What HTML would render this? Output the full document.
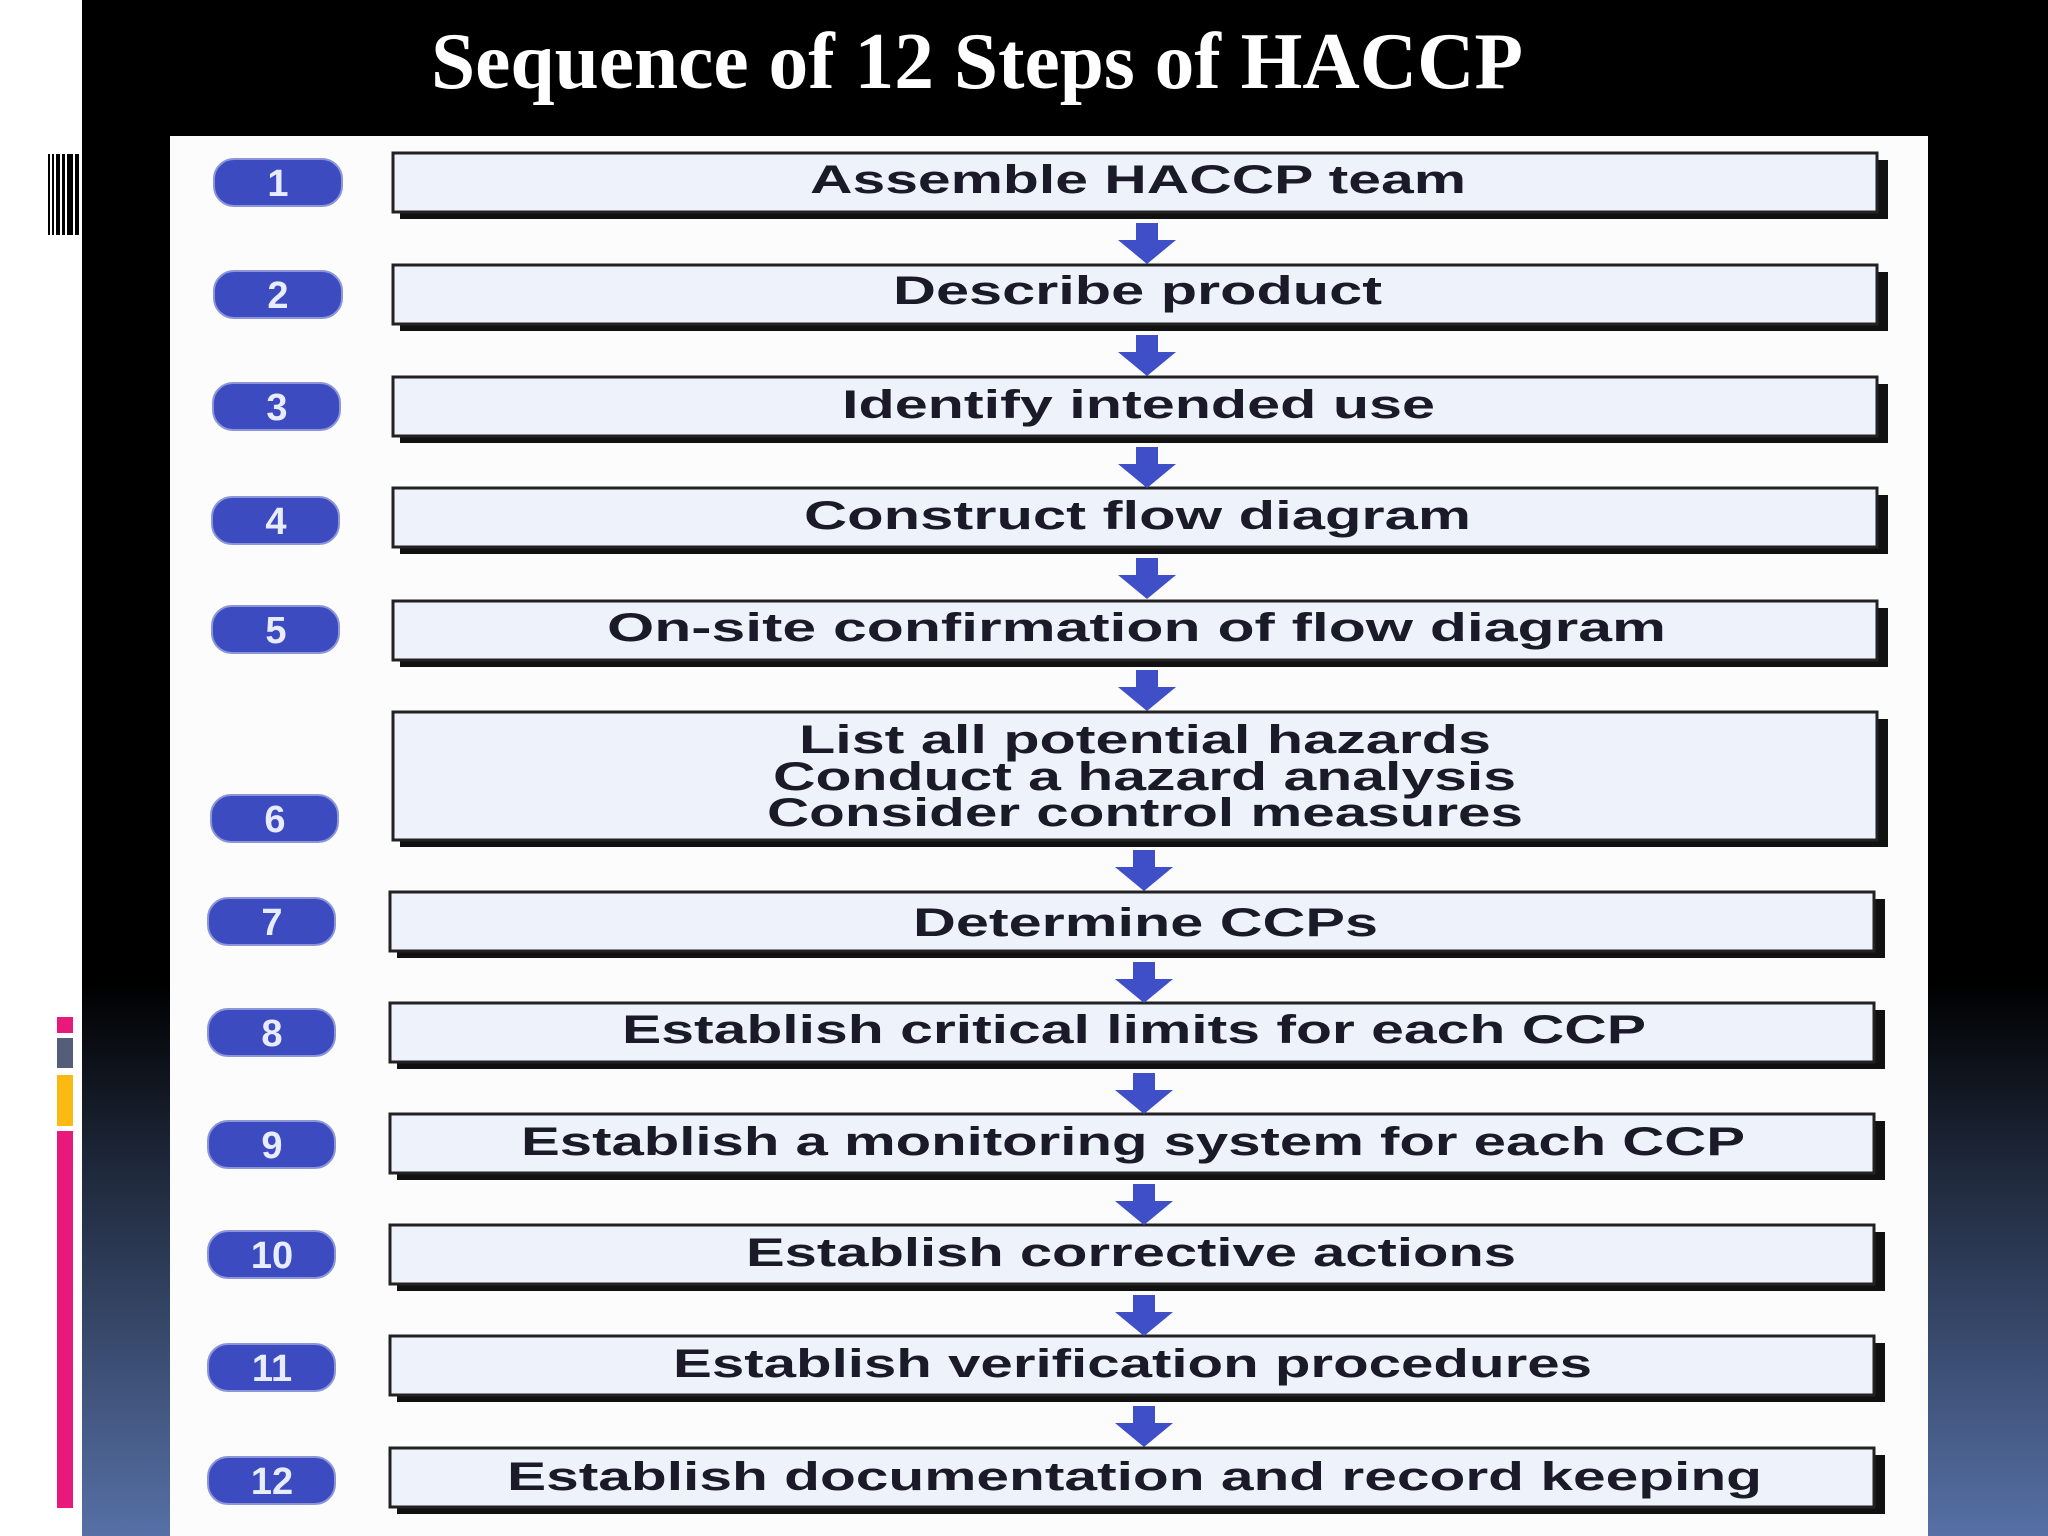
<!DOCTYPE html>
<html><head><meta charset="utf-8"><style>
html,body{margin:0;padding:0;width:2048px;height:1536px;overflow:hidden;background:#fff}
svg{display:block}
</style></head><body>
<svg width="2048" height="1536" viewBox="0 0 2048 1536" xmlns="http://www.w3.org/2000/svg">
<defs>
<linearGradient id="bg" x1="0" y1="0" x2="0" y2="1">
<stop offset="0" stop-color="#000"/>
<stop offset="0.64" stop-color="#000"/>
<stop offset="0.75" stop-color="#1c2536"/>
<stop offset="1" stop-color="#5670a6"/>
</linearGradient>
</defs>
<rect x="0" y="0" width="82" height="1536" fill="#fff"/>
<rect x="82" y="0" width="1966" height="1536" fill="url(#bg)"/>
<g fill="#000">
<rect x="48" y="154" width="2" height="81"/>
<rect x="52" y="154" width="2" height="81"/>
<rect x="56" y="154" width="4" height="81"/>
<rect x="62" y="154" width="3" height="81"/>
<rect x="67" y="154" width="6" height="81"/>
<rect x="75" y="154" width="4" height="81"/>
</g>
<rect x="57" y="1017" width="16" height="16" fill="#e8197a"/>
<rect x="57" y="1038" width="16" height="30" fill="#555e78"/>
<rect x="57" y="1075" width="16" height="51" fill="#fdb913"/>
<rect x="57" y="1131" width="16" height="377" fill="#e8197a"/>
<text x="431" y="88" font-family="Liberation Serif, serif" font-weight="bold" font-size="80" fill="#fff" textLength="1092" lengthAdjust="spacingAndGlyphs">Sequence of 12 Steps of HACCP</text>
<rect x="170" y="136" width="1758" height="1400" fill="#fbfcfb"/>
<g font-family="Liberation Sans, sans-serif" font-weight="bold">
<g>
<rect x="400" y="160" width="1488" height="59" fill="#111"/>
<rect x="393" y="153" width="1484" height="59" fill="#eef3fb" stroke="#222" stroke-width="3"/>
<text x="810" y="193" font-size="40" fill="#1a1a28" textLength="656" lengthAdjust="spacingAndGlyphs">Assemble HACCP team</text>
</g>
<g>
<rect x="400" y="272" width="1488" height="59" fill="#111"/>
<rect x="393" y="265" width="1484" height="59" fill="#eef3fb" stroke="#222" stroke-width="3"/>
<text x="893" y="304" font-size="40" fill="#1a1a28" textLength="489" lengthAdjust="spacingAndGlyphs">Describe product</text>
</g>
<g>
<rect x="400" y="384" width="1488" height="59" fill="#111"/>
<rect x="393" y="377" width="1484" height="59" fill="#eef3fb" stroke="#222" stroke-width="3"/>
<text x="842" y="418" font-size="40" fill="#1a1a28" textLength="593" lengthAdjust="spacingAndGlyphs">Identify intended use</text>
</g>
<g>
<rect x="400" y="495" width="1488" height="59" fill="#111"/>
<rect x="393" y="488" width="1484" height="59" fill="#eef3fb" stroke="#222" stroke-width="3"/>
<text x="804" y="529" font-size="40" fill="#1a1a28" textLength="667" lengthAdjust="spacingAndGlyphs">Construct flow diagram</text>
</g>
<g>
<rect x="400" y="608" width="1488" height="59" fill="#111"/>
<rect x="393" y="601" width="1484" height="59" fill="#eef3fb" stroke="#222" stroke-width="3"/>
<text x="607" y="641" font-size="40" fill="#1a1a28" textLength="1059" lengthAdjust="spacingAndGlyphs">On-site confirmation of flow diagram</text>
</g>
<g>
<rect x="400" y="719" width="1488" height="128" fill="#111"/>
<rect x="393" y="712" width="1484" height="128" fill="#eef3fb" stroke="#222" stroke-width="3"/>
<text x="799" y="753" font-size="40" fill="#1a1a28" textLength="692" lengthAdjust="spacingAndGlyphs">List all potential hazards</text>
<text x="773" y="790" font-size="40" fill="#1a1a28" textLength="743" lengthAdjust="spacingAndGlyphs">Conduct a hazard analysis</text>
<text x="767" y="826" font-size="40" fill="#1a1a28" textLength="756" lengthAdjust="spacingAndGlyphs">Consider control measures</text>
</g>
<g>
<rect x="397" y="899" width="1488" height="59" fill="#111"/>
<rect x="390" y="892" width="1484" height="59" fill="#eef3fb" stroke="#222" stroke-width="3"/>
<text x="913" y="936" font-size="40" fill="#1a1a28" textLength="465" lengthAdjust="spacingAndGlyphs">Determine CCPs</text>
</g>
<g>
<rect x="397" y="1010" width="1488" height="59" fill="#111"/>
<rect x="390" y="1003" width="1484" height="59" fill="#eef3fb" stroke="#222" stroke-width="3"/>
<text x="622" y="1043" font-size="40" fill="#1a1a28" textLength="1024" lengthAdjust="spacingAndGlyphs">Establish critical limits for each CCP</text>
</g>
<g>
<rect x="397" y="1121" width="1488" height="59" fill="#111"/>
<rect x="390" y="1114" width="1484" height="59" fill="#eef3fb" stroke="#222" stroke-width="3"/>
<text x="521" y="1155" font-size="40" fill="#1a1a28" textLength="1224" lengthAdjust="spacingAndGlyphs">Establish a monitoring system for each CCP</text>
</g>
<g>
<rect x="397" y="1232" width="1488" height="59" fill="#111"/>
<rect x="390" y="1225" width="1484" height="59" fill="#eef3fb" stroke="#222" stroke-width="3"/>
<text x="746" y="1266" font-size="40" fill="#1a1a28" textLength="770" lengthAdjust="spacingAndGlyphs">Establish corrective actions</text>
</g>
<g>
<rect x="397" y="1343" width="1488" height="59" fill="#111"/>
<rect x="390" y="1336" width="1484" height="59" fill="#eef3fb" stroke="#222" stroke-width="3"/>
<text x="673" y="1377" font-size="40" fill="#1a1a28" textLength="919" lengthAdjust="spacingAndGlyphs">Establish verification procedures</text>
</g>
<g>
<rect x="397" y="1455" width="1488" height="59" fill="#111"/>
<rect x="390" y="1448" width="1484" height="59" fill="#eef3fb" stroke="#222" stroke-width="3"/>
<text x="507" y="1490" font-size="40" fill="#1a1a28" textLength="1255" lengthAdjust="spacingAndGlyphs">Establish documentation and record keeping</text>
</g>
</g>
<g fill="#3f4fc8">
<path d="M1136,223 h22 v17 h18 l-29,24 l-29,-24 h18 z"/>
<path d="M1136,335 h22 v17 h18 l-29,24 l-29,-24 h18 z"/>
<path d="M1136,447 h22 v17 h18 l-29,24 l-29,-24 h18 z"/>
<path d="M1136,558 h22 v17 h18 l-29,24 l-29,-24 h18 z"/>
<path d="M1136,670 h22 v17 h18 l-29,24 l-29,-24 h18 z"/>
<path d="M1133,850 h22 v17 h18 l-29,24 l-29,-24 h18 z"/>
<path d="M1133,962 h22 v17 h18 l-29,24 l-29,-24 h18 z"/>
<path d="M1133,1073 h22 v17 h18 l-29,24 l-29,-24 h18 z"/>
<path d="M1133,1184 h22 v17 h18 l-29,24 l-29,-24 h18 z"/>
<path d="M1133,1295 h22 v17 h18 l-29,24 l-29,-24 h18 z"/>
<path d="M1133,1406 h22 v17 h18 l-29,24 l-29,-24 h18 z"/>
</g>
<g font-family="Liberation Sans, sans-serif" font-weight="bold" font-size="38" fill="#e8ecff" text-anchor="middle">
<g><rect x="214" y="159" width="128" height="47" rx="20" fill="#3d4bc0" stroke="#8c95d8" stroke-width="2"/><text x="278" y="196">1</text></g>
<g><rect x="214" y="271" width="128" height="47" rx="20" fill="#3d4bc0" stroke="#8c95d8" stroke-width="2"/><text x="278" y="308">2</text></g>
<g><rect x="213" y="383" width="127" height="47" rx="20" fill="#3d4bc0" stroke="#8c95d8" stroke-width="2"/><text x="277" y="420">3</text></g>
<g><rect x="212" y="497" width="127" height="47" rx="20" fill="#3d4bc0" stroke="#8c95d8" stroke-width="2"/><text x="276" y="534">4</text></g>
<g><rect x="212" y="606" width="127" height="47" rx="20" fill="#3d4bc0" stroke="#8c95d8" stroke-width="2"/><text x="276" y="643">5</text></g>
<g><rect x="211" y="795" width="127" height="47" rx="20" fill="#3d4bc0" stroke="#8c95d8" stroke-width="2"/><text x="275" y="832">6</text></g>
<g><rect x="208" y="898" width="127" height="47" rx="20" fill="#3d4bc0" stroke="#8c95d8" stroke-width="2"/><text x="272" y="935">7</text></g>
<g><rect x="208" y="1009" width="127" height="47" rx="20" fill="#3d4bc0" stroke="#8c95d8" stroke-width="2"/><text x="272" y="1046">8</text></g>
<g><rect x="208" y="1121" width="127" height="47" rx="20" fill="#3d4bc0" stroke="#8c95d8" stroke-width="2"/><text x="272" y="1158">9</text></g>
<g><rect x="208" y="1231" width="127" height="47" rx="20" fill="#3d4bc0" stroke="#8c95d8" stroke-width="2"/><text x="272" y="1268">10</text></g>
<g><rect x="208" y="1344" width="127" height="47" rx="20" fill="#3d4bc0" stroke="#8c95d8" stroke-width="2"/><text x="272" y="1381">11</text></g>
<g><rect x="208" y="1457" width="127" height="47" rx="20" fill="#3d4bc0" stroke="#8c95d8" stroke-width="2"/><text x="272" y="1494">12</text></g>
</g>
</svg>
</body></html>
